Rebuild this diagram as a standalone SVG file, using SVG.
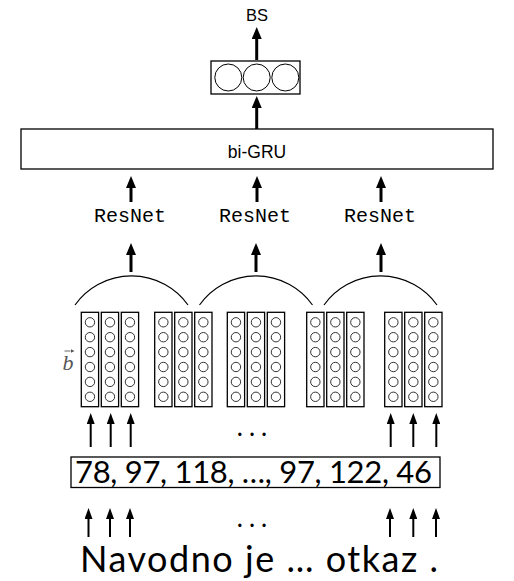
<svg xmlns="http://www.w3.org/2000/svg" width="514" height="581" viewBox="0 0 514 581">
<defs>
<marker id="hd" markerUnits="userSpaceOnUse" markerWidth="12" markerHeight="10" refX="0" refY="5" orient="auto" viewBox="0 0 12 10"><path d="M0,0 L12,5 L0,10 z" fill="#000"/></marker>
<marker id="hs" markerUnits="userSpaceOnUse" markerWidth="11" markerHeight="8" refX="0" refY="4" orient="auto" viewBox="0 0 11 8"><path d="M0,0 L11,4 L0,8 z" fill="#000"/></marker>
<marker id="hv" markerUnits="userSpaceOnUse" markerWidth="4" markerHeight="4" refX="0" refY="2" orient="auto" viewBox="0 0 4 4"><path d="M0,0 L4,2 L0,4 z" fill="#555"/></marker>
<g id="col">
<rect x="0" y="0" width="17.3" height="94.4" fill="#fff" stroke="#000" stroke-width="1.3"/>
<g fill="none" stroke="#333" stroke-width="1"><circle cx="8.65" cy="10" r="4.7"/><circle cx="8.65" cy="24.9" r="4.7"/><circle cx="8.65" cy="39.8" r="4.7"/><circle cx="8.65" cy="54.7" r="4.7"/><circle cx="8.65" cy="69.6" r="4.7"/><circle cx="8.65" cy="84.5" r="4.7"/></g>
</g>
</defs>
<style>
.thick{stroke:#000;stroke-width:3;fill:none;marker-end:url(#hd)}
.thin{stroke:#000;stroke-width:2;fill:none;marker-end:url(#hs)}
.arc{stroke:#000;stroke-width:1.2;fill:none}
.box{fill:#fff;stroke:#000;stroke-width:1.3}
.sans{font-family:"Liberation Sans",Arial,sans-serif;fill:#000}
.mono{font-family:"Liberation Mono","Courier New",monospace;font-size:20px;fill:#000}
.gill{font-family:Lato,"Open Sans",sans-serif;fill:#000}
</style>
<rect width="514" height="581" fill="#fff"/>
<g id="connectors">
<line class="thick" x1="256.7" y1="60" x2="256.7" y2="39"/>
<line class="thick" x1="256.7" y1="129" x2="256.7" y2="108"/>
<line class="thick" x1="131" y1="202" x2="131" y2="188"/>
<line class="thick" x1="257" y1="202" x2="257" y2="188"/>
<line class="thick" x1="381" y1="202" x2="381" y2="188"/>
<line class="thick" x1="131" y1="272" x2="131" y2="255"/>
<line class="thick" x1="256" y1="272" x2="256" y2="255"/>
<line class="thick" x1="381" y1="272" x2="381" y2="255"/>
<path class="arc" d="M75,305 A69.5,69.5 0 0 1 188,305"/>
<path class="arc" d="M199.5,305 A69.5,69.5 0 0 1 312.5,305"/>
<path class="arc" d="M324,305 A69.5,69.5 0 0 1 437,305"/>
<line class="thin" x1="90.7" y1="447" x2="90.7" y2="424"/>
<line class="thin" x1="110.7" y1="447" x2="110.7" y2="424"/>
<line class="thin" x1="130.7" y1="447" x2="130.7" y2="424"/>
<line class="thin" x1="390.7" y1="447" x2="390.7" y2="424"/>
<line class="thin" x1="413.3" y1="447" x2="413.3" y2="424"/>
<line class="thin" x1="436.3" y1="447" x2="436.3" y2="424"/>
<line class="thin" x1="88.5" y1="537" x2="88.5" y2="519"/>
<line class="thin" x1="110" y1="537" x2="110" y2="519"/>
<line class="thin" x1="130" y1="537" x2="130" y2="519"/>
<line class="thin" x1="390" y1="537" x2="390" y2="519"/>
<line class="thin" x1="413.3" y1="537" x2="413.3" y2="519"/>
<line class="thin" x1="436" y1="537" x2="436" y2="519"/>
</g>
<g id="bs"><text class="sans" x="257" y="21" font-size="16.5" text-anchor="middle">BS</text></g>
<g id="output">
<rect class="box" x="211" y="61" width="89" height="33"/>
<g fill="none" stroke="#000" stroke-width="1"><circle cx="228.3" cy="77.5" r="13.5"/><circle cx="256.7" cy="77.5" r="13.5"/><circle cx="285.3" cy="77.5" r="13.5"/></g>
</g>
<g id="bigru">
<rect class="box" x="21" y="129" width="472" height="40"/>
<text class="sans" x="257" y="158" font-size="17.5" text-anchor="middle">bi-GRU</text>
</g>
<g id="resnet1"><text class="mono" x="130" y="222" text-anchor="middle">ResNet</text></g>
<g id="resnet2"><text class="mono" x="255" y="222" text-anchor="middle">ResNet</text></g>
<g id="resnet3"><text class="mono" x="380" y="222" text-anchor="middle">ResNet</text></g>
<g id="embeddings">
<use href="#col" x="81.3" y="312.3"/><use href="#col" x="101.3" y="312.3"/><use href="#col" x="121.3" y="312.3"/>
<use href="#col" x="154.7" y="312.3"/><use href="#col" x="174.7" y="312.3"/><use href="#col" x="194.7" y="312.3"/>
<use href="#col" x="227.3" y="312.3"/><use href="#col" x="247.3" y="312.3"/><use href="#col" x="267.3" y="312.3"/>
<use href="#col" x="306.7" y="312.3"/><use href="#col" x="326.7" y="312.3"/><use href="#col" x="346.7" y="312.3"/>
<use href="#col" x="384.7" y="312.3"/><use href="#col" x="404.7" y="312.3"/><use href="#col" x="424.7" y="312.3"/>
</g>
<g id="bvec" fill="#555">
<text x="62.5" y="370" font-family="'Liberation Serif',serif" font-style="italic" font-size="22">b</text>
<line x1="64.5" y1="351" x2="70.5" y2="351" stroke="#555" stroke-width="0.9" marker-end="url(#hv)"/>
</g>
<g id="dots1"><text class="gill" x="255" y="436" font-size="26" text-anchor="middle" letter-spacing="6">...</text></g>
<g id="codes">
<rect class="box" x="71" y="457" width="369" height="30.5"/>
<text class="gill" x="75" y="483" font-size="31" textLength="357">78, 97, 118, …, 97, 122, 46</text>
</g>
<g id="dots2"><text class="gill" x="255" y="527" font-size="26" text-anchor="middle" letter-spacing="6">...</text></g>
<g id="sentence"><text class="gill" x="80" y="572" font-size="36" textLength="358">Navodno je … otkaz .</text></g>
</svg>
